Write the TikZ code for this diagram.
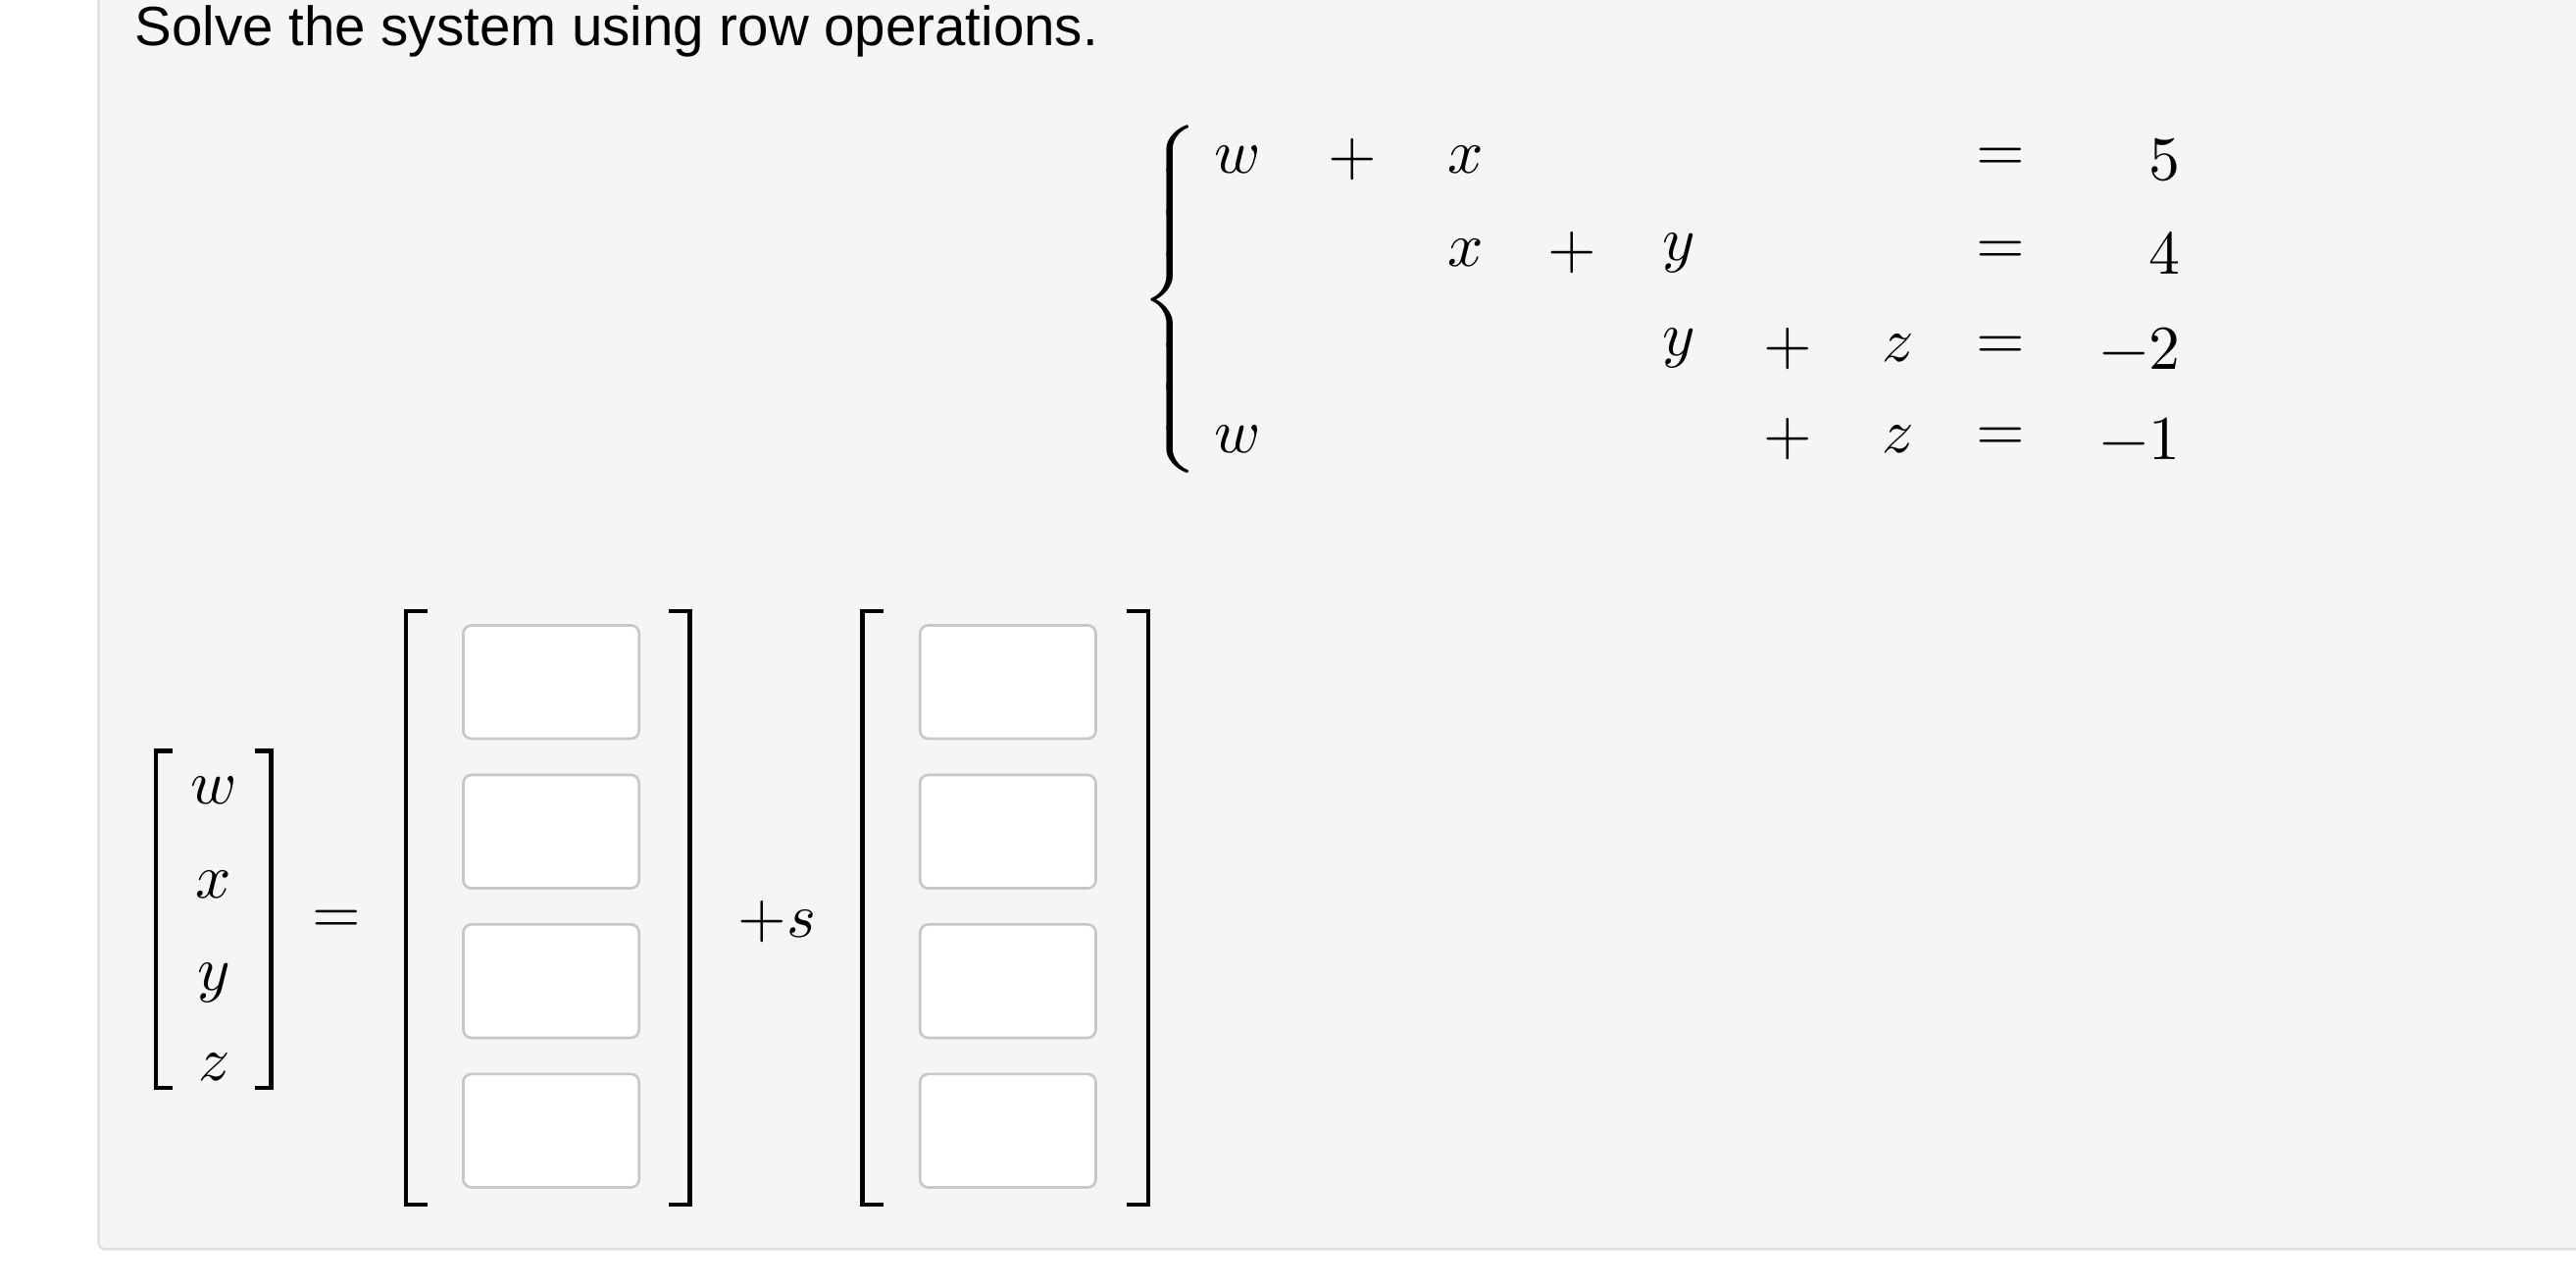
\documentclass[tikz,border=0pt]{standalone}
\usepackage{fontspec}
\setmainfont{Liberation Sans}
\usepackage{unicode-math}
\setmathfont{Latin Modern Math}
\begin{document}
\begin{tikzpicture}[x=1pt,y=-1pt,
  mth/.style={font=\fontsize{38}{44}\selectfont, inner sep=0},
  ansbox/.style={draw=black!22, fill=white, rounded corners=5pt, line width=1.6pt, minimum width=107pt, minimum height=69pt},
  brk/.style={line width=2.6pt}]
\useasboundingbox (0,0) rectangle (1568,783);
\fill[white] (0,0) rectangle (1568,783);
\draw[draw=black!12, fill=black!4, line width=1.5pt, rounded corners=4pt] (1580,-10) -- (60,-10) -- (60,760) -- (1580,760);
\node[anchor=base west, inner sep=0, font=\fontsize{33.7}{40}\selectfont] (title) at (82,27.5) {Solve the system using row operations.};
% system
\node[inner sep=0, font=\fontsize{38}{44}\selectfont] (brace) at (713,181) {$\left\{\vphantom{\rule{0pt}{118pt}}\right.$};
\node[mth] (a1) at (753,97) {$w$}; \node[mth] (b1) at (823,97) {$+$}; \node[mth] (c1) at (892,97) {$x$};
\node[mth] (c2) at (892,154) {$x$}; \node[mth] (d2) at (957,154) {$+$}; \node[mth] (e2) at (1022,154) {$y$};
\node[mth] (e3) at (1022,212) {$y$}; \node[mth] (f3) at (1088,212) {$+$}; \node[mth] (g3) at (1155,212) {$z$};
\node[mth] (a4) at (753,267) {$w$}; \node[mth] (f4) at (1088,267) {$+$}; \node[mth] (g4) at (1155,267) {$z$};
\foreach \yy/\v [count=\i] in {97/5,154/4,212/-2,267/-1}{
  \node[mth] (eq\i) at (1218,\yy) {$=$};
  \node[mth, anchor=east] (rhs\i) at (1327,\yy) {$\v$};}
% vector
\draw[brk] (105,457) -- (95,457) -- (95,662) -- (105,662);
\draw[brk] (155,457) -- (165,457) -- (165,662) -- (155,662);
\node[mth] (vw) at (130,481) {$w$}; \node[mth] (vx) at (130,538) {$x$};
\node[mth] (vy) at (130,598) {$y$}; \node[mth] (vz) at (130,649) {$z$};
\node[mth] (eqv) at (205,561) {$=$};
\foreach \L/\R/\n in {247/420/p,525/699/q}{
  \draw[brk] (\L+13,372) -- (\L,372) -- (\L,733) -- (\L+13,733);
  \draw[brk] (\R-13,372) -- (\R,372) -- (\R,733) -- (\R-13,733);
  \foreach \yy [count=\k] in {415,506,597,688}{
    \node[ansbox] (\n\k) at ({\L+88.5},\yy) {};}}
\node[mth] (plus) at (473,561) {$+s$};
\end{tikzpicture}
\end{document}
